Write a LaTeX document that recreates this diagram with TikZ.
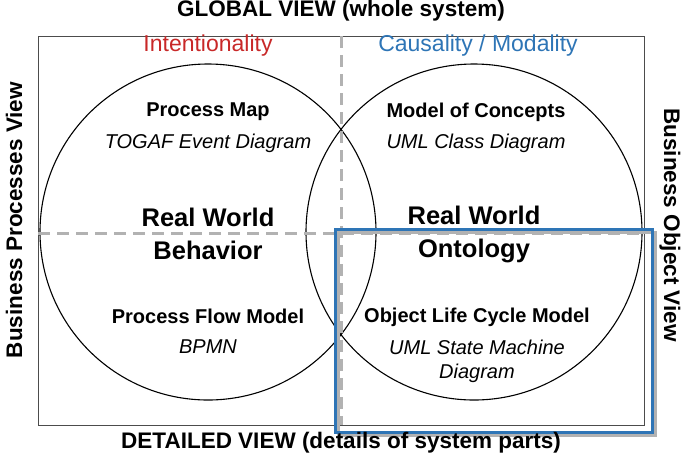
\documentclass[tikz,border=0pt]{standalone}
\usepackage{fontspec}
\setmainfont{Liberation Sans}
\definecolor{myred}{RGB}{200,40,40}
\definecolor{myblue}{RGB}{46,117,182}
\begin{document}
\begin{tikzpicture}[x=1pt,y=-1pt,
  hd/.style={font=\bfseries\fontsize{22.5}{26}\selectfont},
  tt/.style={font=\bfseries\fontsize{20}{24}\selectfont},
  it/.style={font=\itshape\fontsize{20}{24}\selectfont},
  big/.style={font=\bfseries\fontsize{25.5}{33}\selectfont,align=center},
  dsh/.style={gray!60,line width=3pt,dash pattern=on 12pt off 7pt}]
\useasboundingbox (0,0) rectangle (685,459);
\draw[gray!60!black,line width=1pt] (38,36) rectangle (644,425);
\draw[line width=1.1pt] (208,232) circle (168);
\draw[line width=1.1pt] (474,232) circle (168);
\draw[dsh] (341,36) -- (341,425);
\draw[dsh] (38,233) -- (644,233);
\draw[black!30,line width=3pt] (338,232) rectangle (655,435);
\draw[myblue,line width=3pt] (335,229) rectangle (652,432);
\node[hd] (g) at (341,11) {GLOBAL VIEW (whole system)};
\node[hd] (d) at (341,443) {DETAILED VIEW (details of system parts)};
\node[hd,rotate=90] (l) at (14,220) {Business Processes View};
\node[hd,rotate=-90] (r) at (670,225) {Business Object View};
\node[font=\fontsize{23}{26}\selectfont,text=myred] (i) at (208,46) {Intentionality};
\node[font=\fontsize{23}{26}\selectfont,text=myblue] (c) at (478,46) {Causality / Modality};
\node[tt] (pm) at (208,112) {Process Map};
\node[it] (te) at (208,143) {TOGAF Event Diagram};
\node[tt] (mc) at (476,112) {Model of Concepts};
\node[it] (uc) at (476,143) {UML Class Diagram};
\node[big] (rb) at (208,234) {Real World\\Behavior};
\node[big] (ro) at (474,234) {Real World\\Ontology};
\node[tt] (pf) at (208,316) {Process Flow Model};
\node[it] (bp) at (208,347) {BPMN};
\node[tt] (ol) at (477,317) {Object Life Cycle Model};
\node[it,align=center] (us) at (477,361) {UML State Machine\\Diagram};
\end{tikzpicture}
\end{document}
